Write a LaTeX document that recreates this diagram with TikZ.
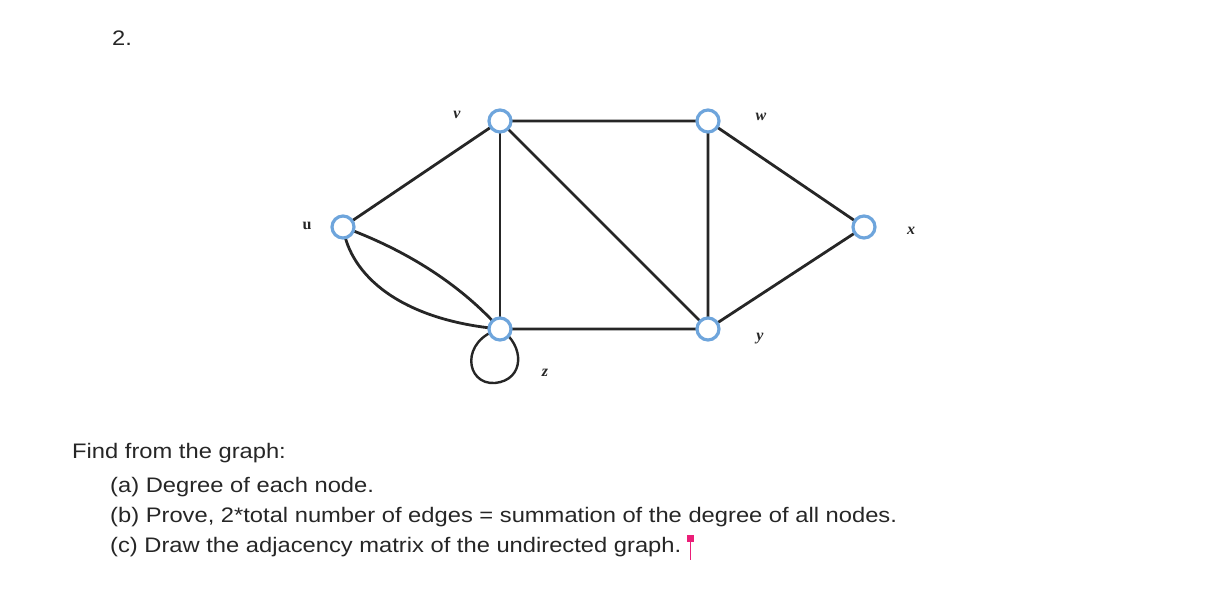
\documentclass[tikz,border=0pt]{standalone}
\usepackage{fontspec}
\setmainfont{Liberation Sans}
\newfontfamily\wide[FakeStretch=1.13]{Liberation Sans}
\newfontfamily\lblfont{Liberation Serif}
\begin{document}
\begin{tikzpicture}[x=1pt,y=-1pt]
\definecolor{nodeblue}{RGB}{110,165,220}
\definecolor{cursorpink}{RGB}{235,30,120}
\tikzset{vtx/.style={circle,draw=nodeblue,line width=3.2pt,fill=white,minimum size=22pt,inner sep=0pt},
 edge/.style={line width=2.8pt,draw=black!85},
 lbl/.style={font=\lblfont\bfseries\itshape\fontsize{16}{16}\selectfont,inner sep=0pt,text=black!85},
 txt/.style={font=\wide\fontsize{21}{24}\selectfont,anchor=west,inner sep=0pt,text=black!85}}
\useasboundingbox (0,0) rectangle (1229,610);
\node[txt] (num) at (112,38) {2.};
\coordinate (u) at (343,227);
\coordinate (v) at (500,121);
\coordinate (w) at (708,121);
\coordinate (x) at (864,227);
\coordinate (z) at (500,329);
\coordinate (y) at (708,329);
\draw[edge] (u)--(v) (v)--(w) (w)--(x) (x)--(y) (y)--(z) (w)--(y) (v)--(y);
\draw[edge,line width=2.2pt] (v)--(z);
\draw[edge] (u) .. controls (420,255) and (470,295) .. (z);
\draw[edge] (u) .. controls (350,275) and (400,320) .. (z);
\draw[edge,line width=2.4pt] (z) .. controls (460,340) and (465,385) .. (495,383) .. controls (525,380) and (525,345) .. (z);
\foreach \n in {u,v,w,x,y,z} \node[vtx] (n\n) at (\n) {};
\node[lbl] (lv) at (457,115) {v};
\node[lbl] (lw) at (761,117) {w};
\node[lbl] (lx) at (911,231) {x};
\node[lbl] (ly) at (760,339) {y};
\node[lbl] (lz) at (545,373) {z};
\node[lbl,font=\lblfont\bfseries\fontsize{16}{16}\selectfont] (lu) at (307,226) {u};
\node[txt] (t0) at (72,453) {Find from the graph:};
\node[txt] (ta) at (110,487) {(a) Degree of each node.};
\node[txt] (tb) at (110,517) {(b) Prove, 2*total number of edges = summation of the degree of all nodes.};
\node[txt] (tc) at (110,547) {(c) Draw the adjacency matrix of the undirected graph.};
\fill[cursorpink] (687,535) rectangle (694,542);
\draw[cursorpink,line width=1.6pt] (690.5,540) -- (690.5,560);
\end{tikzpicture}
\end{document}
